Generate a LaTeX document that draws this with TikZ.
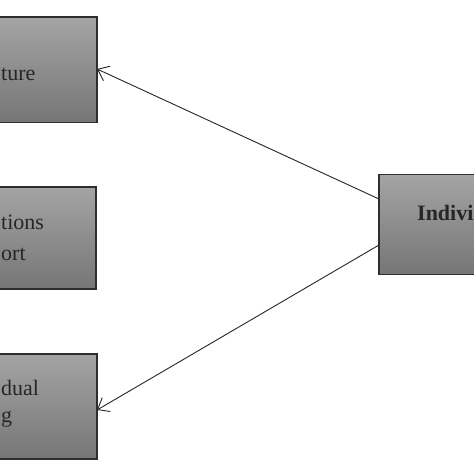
\documentclass[tikz,border=0pt]{standalone}
\usepackage{fontspec}
\setmainfont{Liberation Serif}
\usetikzlibrary{arrows.meta}
\definecolor{txt}{HTML}{262626}
\definecolor{edge}{HTML}{2E2E2E}
\definecolor{gtop}{HTML}{A4A4A4}
\definecolor{gbot}{HTML}{767676}
\tikzset{
  box/.style={draw=edge, line width=1.3pt, top color=gtop, bottom color=gbot, rectangle, inner sep=0pt},
  lbl/.style={text=txt, font=\fontsize{22}{26}\selectfont, inner sep=0pt},
  arr/.style={draw=black!85, line width=0.9pt, -{Straight Barb[length=10pt,width=16pt,line width=0.9pt]}}
}
\begin{document}
\begin{tikzpicture}[x=1pt,y=-1pt]
\useasboundingbox (0,0) rectangle (474,474);
\clip (0,0) rectangle (474,474);
\fill[white] (0,0) rectangle (474,474);
\node[box, minimum width=157pt, minimum height=105.5pt] (b1) at (18.5,69.75) {};
\node[box, minimum width=156pt, minimum height=102pt] (b2) at (18,238) {};
\node[box, minimum width=157pt, minimum height=105pt] (b3) at (18.5,406.5) {};
\node[box, minimum width=161pt, minimum height=99.6pt] (rb) at (459.5,224.5) {};
\node[lbl, anchor=base west] (t1) at (1,80) {ture};
\node[lbl, anchor=base west] (t2a) at (1,229) {tions};
\node[lbl, anchor=base west] (t2b) at (1,260) {ort};
\node[lbl, anchor=base west] (t3a) at (1,395) {dual};
\node[lbl, anchor=base west] (t3b) at (1,422) {g};
\node[lbl, anchor=base west, font=\fontsize{22}{26}\selectfont\bfseries] (tr) at (417,220) {Indivi};
\coordinate (s1) at (379,199);
\coordinate (s2) at (379,245);
\coordinate (e1) at (97,69);
\coordinate (e2) at (97,410);
\draw[arr] (s1) -- (e1);
\draw[arr] (s2) -- (e2);
\end{tikzpicture}
\end{document}
